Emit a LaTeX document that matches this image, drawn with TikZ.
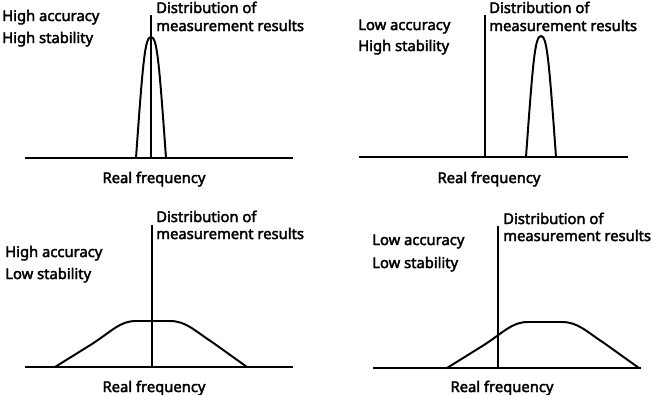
\documentclass[tikz,border=0pt]{standalone}
\usepackage{fontspec}
\setmainfont{Noto Sans}
\newfontfamily\lblfont{Noto Sans}[FakeBold=2.5]
\usepackage{tikz}
\usetikzlibrary{positioning}

\tikzset{
  axisline/.style={line width=1.4pt},
  curveline/.style={line width=1.4pt, line join=round},
  lbl/.style={inner sep=0pt, anchor=base west, font=\lblfont\fontsize{10.5}{12}\selectfont},
  freqlbl/.style={lbl, anchor=base}
}

\begin{document}
\begin{tikzpicture}[x=0.025cm, y=-0.025cm]
  \useasboundingbox (0,0) rectangle (652,395);
  % high accuracy, high stability
  \coordinate (a1l) at (25,158); \coordinate (a1r) at (293,158);
  \coordinate (v1b) at (151,158); \coordinate (v1t) at (151,15);
  \draw[axisline] (a1l) -- (a1r);
  \draw[axisline] (v1b) -- (v1t);
  \draw[curveline] (136,158) .. controls (143,60) and (145,37) .. (151,37)
                   .. controls (157,37) and (159,60) .. (166,158);
  \node[lbl] (acc1) at (2,21) {High accuracy};
  \node[lbl] (stab1) at (2,43) {High stability};
  \node[lbl] (dist1) at (156,13) {Distribution of};
  \node[lbl] (meas1) at (156,31) {measurement results};
  \node[freqlbl] (freq1) at (154,183) {Real frequency};
  % low accuracy, high stability
  \coordinate (a2l) at (359,157); \coordinate (a2r) at (628,157);
  \coordinate (v2b) at (485,157); \coordinate (v2t) at (485,15);
  \draw[axisline] (a2l) -- (a2r);
  \draw[axisline] (v2b) -- (v2t);
  \draw[curveline] (526,157) .. controls (533,60) and (535,36) .. (541,36)
                   .. controls (547,36) and (549,60) .. (556,157);
  \node[lbl] (acc2) at (358,30) {Low accuracy};
  \node[lbl] (stab2) at (358,51) {High stability};
  \node[lbl] (dist2) at (489,13) {Distribution of};
  \node[lbl] (meas2) at (489,31) {measurement results};
  \node[freqlbl] (freq2) at (489,183) {Real frequency};
  % high accuracy, low stability
  \coordinate (a3l) at (25,367); \coordinate (a3r) at (293,367);
  \coordinate (v3b) at (152,367); \coordinate (v3t) at (152,225);
  \draw[axisline] (a3l) -- (a3r);
  \draw[axisline] (v3b) -- (v3t);
  \draw[curveline] (55,367) -- (92,344) .. controls (112,331) and (120,321) .. (136,321)
                   -- (170,321) .. controls (186,321) and (195,331) .. (212,342) -- (247,367);
  \node[lbl] (acc3) at (5,257) {High accuracy};
  \node[lbl] (stab3) at (5,279) {Low stability};
  \node[lbl] (dist3) at (156,222) {Distribution of};
  \node[lbl] (meas3) at (156,239) {measurement results};
  \node[freqlbl] (freq3) at (154,392) {Real frequency};
  % low accuracy, low stability
  \coordinate (a4l) at (373,368); \coordinate (a4r) at (641,368);
  \coordinate (v4b) at (498,368); \coordinate (v4t) at (498,226);
  \draw[axisline] (a4l) -- (a4r);
  \draw[axisline] (v4b) -- (v4t);
  \draw[curveline] (447,368) -- (484,345) .. controls (504,332) and (512,322) .. (528,322)
                   -- (562,322) .. controls (578,322) and (587,332) .. (604,343) -- (639,368);
  \node[lbl] (acc4) at (372,245) {Low accuracy};
  \node[lbl] (stab4) at (372,268) {Low stability};
  \node[lbl] (dist4) at (503,224) {Distribution of};
  \node[lbl] (meas4) at (503,241) {measurement results};
  \node[freqlbl] (freq4) at (502,392) {Real frequency};
\end{tikzpicture}
\end{document}
